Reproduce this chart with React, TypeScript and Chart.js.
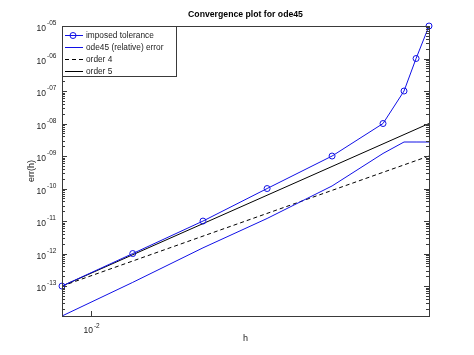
import React, { useEffect, useRef } from "react";
import { Chart, registerables } from "chart.js";

Chart.register(...registerables);

const titleText = "Convergence plot for ode45";
const xLabel = "h";
const yLabel = "err(h)";
const hValues = [0.00834, 0.013, 0.0202, 0.0302, 0.0454, 0.0625, 0.0713, 0.0769, 0.0834];
const imposedTol = [1e-13, 1e-12, 1e-11, 1e-10, 1e-9, 1e-8, 1e-7, 1e-6, 1e-5];
const odeError = [1.2e-14, 1.3e-13, 1.5e-12, 1.2e-11, 1.2e-10, 1.2e-9, 2.7e-9, 2.7e-9, 2.7e-9];
const orderH = [0.00834, 0.0834];
const order4 = [1e-13, 1e-9];
const order5 = [1e-13, 1e-8];
const legendLabels = ["imposed tolerance", "ode45 (relative) error", "order 4", "order 5"];
const yTickExps = [-5, -6, -7, -8, -9, -10, -11, -12, -13];
const xTickExps = [-2];
const xRange = [0.00834, 0.0834];
const yRange = [1.2e-14, 1e-5];

const BLUE = "#1010e6";
const FONT = '"Liberation Sans", Arial, sans-serif';

function pad2(n: number) {
  const s = String(Math.abs(n)).padStart(2, "0");
  return (n < 0 ? "-" : "") + s;
}

const decorPlugin = {
  id: "decor",
  afterDraw(chart: any) {
    const ctx = chart.ctx as CanvasRenderingContext2D;
    const a = chart.chartArea;
    const xs = chart.scales.x;
    const ys = chart.scales.y;
    ctx.save();
    // box
    ctx.strokeStyle = "#3a3a3a";
    ctx.lineWidth = 1;
    ctx.strokeRect(a.left + 0.5, a.top + 0.5, a.right - a.left, a.bottom - a.top);
    // y ticks
    for (let e = -14; e <= -5; e++) {
      for (let m = 1; m <= 9; m++) {
        const v = m * Math.pow(10, e);
        if (v < yRange[0] * 0.999 || v > yRange[1] * 1.001) continue;
        const y = Math.round(ys.getPixelForValue(v)) + 0.5;
        const len = m === 1 ? 5 : 3;
        ctx.beginPath();
        ctx.moveTo(a.left, y);
        ctx.lineTo(a.left + len, y);
        ctx.moveTo(a.right, y);
        ctx.lineTo(a.right - len, y);
        ctx.stroke();
      }
    }
    // x ticks
    for (const e of xTickExps) {
      const x = Math.round(xs.getPixelForValue(Math.pow(10, e))) + 0.5;
      ctx.beginPath();
      ctx.moveTo(x, a.bottom);
      ctx.lineTo(x, a.bottom - 5);
      ctx.moveTo(x, a.top);
      ctx.lineTo(x, a.top + 5);
      ctx.stroke();
    }
    ctx.fillStyle = "#222";
    // y tick labels
    for (const e of yTickExps) {
      const y = ys.getPixelForValue(Math.pow(10, e));
      ctx.font = `8.5px ${FONT}`;
      ctx.textAlign = "right";
      ctx.textBaseline = "alphabetic";
      ctx.fillText("10", a.left - 16, y + 5);
      ctx.font = `6.5px ${FONT}`;
      ctx.textAlign = "left";
      ctx.fillText(pad2(e), a.left - 15, y - 1);
    }
    // x tick labels
    for (const e of xTickExps) {
      const x = xs.getPixelForValue(Math.pow(10, e));
      ctx.font = `8.5px ${FONT}`;
      ctx.textAlign = "right";
      ctx.fillText("10", x + 2, a.bottom + 17);
      ctx.font = `6.5px ${FONT}`;
      ctx.textAlign = "left";
      ctx.fillText(String(e), x + 3, a.bottom + 12);
    }
    // axis labels
    ctx.font = `9px ${FONT}`;
    ctx.textAlign = "center";
    ctx.textBaseline = "middle";
    ctx.fillText(xLabel, (a.left + a.right) / 2, 339);
    ctx.save();
    ctx.translate(32, (a.top + a.bottom) / 2);
    ctx.rotate(-Math.PI / 2);
    ctx.fillText(yLabel, 0, 0);
    ctx.restore();
    // title
    ctx.font = `bold 8.7px ${FONT}`;
    ctx.fillStyle = "#000";
    ctx.fillText(titleText, (a.left + a.right) / 2, 15);
    // legend
    const lx = a.left, ly = a.top, lw = 114, lh = 50;
    ctx.fillStyle = "#fff";
    ctx.fillRect(lx, ly, lw, lh);
    ctx.strokeStyle = "#3a3a3a";
    ctx.strokeRect(lx + 0.5, ly + 0.5, lw, lh);
    const rowsY = [35, 47, 59, 71];
    const styles = [
      { c: BLUE, dash: [] as number[], marker: true },
      { c: BLUE, dash: [] as number[], marker: false },
      { c: "#000", dash: [4, 3], marker: false },
      { c: "#000", dash: [] as number[], marker: false },
    ];
    ctx.font = `8.3px ${FONT}`;
    ctx.textAlign = "left";
    ctx.textBaseline = "middle";
    legendLabels.forEach((lab, i) => {
      const y = rowsY[i] + 0.5;
      const s = styles[i];
      ctx.strokeStyle = s.c;
      ctx.setLineDash(s.dash);
      ctx.lineWidth = 1;
      ctx.beginPath();
      ctx.moveTo(lx + 3, y);
      ctx.lineTo(lx + 21, y);
      ctx.stroke();
      ctx.setLineDash([]);
      if (s.marker) {
        ctx.beginPath();
        ctx.arc(lx + 11, y, 3, 0, Math.PI * 2);
        ctx.stroke();
      }
      ctx.fillStyle = "#222";
      ctx.fillText(lab, lx + 24, y + 0.5);
    });
    ctx.restore();
  },
};

export default function App() {
  const ref = useRef<HTMLCanvasElement | null>(null);
  useEffect(() => {
    document.body.style.margin = "0";
    const canvas = ref.current!;
    const chart = new Chart(canvas, {
      type: "scatter",
      data: {
        datasets: [
          {
            label: legendLabels[0],
            data: hValues.map((h, i) => ({ x: h, y: imposedTol[i] })),
            showLine: true,
            borderColor: BLUE,
            borderWidth: 1,
            pointRadius: 3,
            pointBorderColor: BLUE,
            pointBackgroundColor: "rgba(0,0,0,0)",
            pointBorderWidth: 1,
            clip: false as any,
          },
          {
            label: legendLabels[1],
            data: hValues.map((h, i) => ({ x: h, y: odeError[i] })),
            showLine: true,
            borderColor: BLUE,
            borderWidth: 1,
            pointRadius: 0,
          },
          {
            label: legendLabels[2],
            data: orderH.map((h, i) => ({ x: h, y: order4[i] })),
            showLine: true,
            borderColor: "#000",
            borderWidth: 1,
            borderDash: [4, 3],
            pointRadius: 0,
          },
          {
            label: legendLabels[3],
            data: orderH.map((h, i) => ({ x: h, y: order5[i] })),
            showLine: true,
            borderColor: "#000",
            borderWidth: 1,
            pointRadius: 0,
          },
        ],
      },
      options: {
        responsive: false,
        animation: false,
        devicePixelRatio: 1,
        layout: { padding: { left: 62, right: 45, top: 26, bottom: 39 } },
        plugins: { legend: { display: false }, tooltip: { enabled: false }, title: { display: false } },
        scales: {
          x: { type: "logarithmic", min: xRange[0], max: xRange[1], display: false },
          y: { type: "logarithmic", min: yRange[0], max: yRange[1], display: false },
        },
      },
      plugins: [decorPlugin],
    });
    return () => chart.destroy();
  }, []);
  return <canvas ref={ref} width={474} height={355} style={{ display: "block" }} />;
}
